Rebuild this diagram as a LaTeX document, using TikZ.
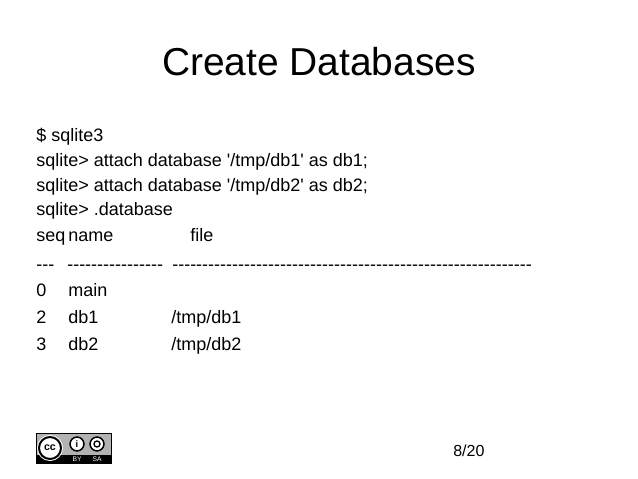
\documentclass[tikz,border=0pt]{standalone}
\usepackage{fontspec}
\setmainfont{Liberation Sans}
\newcommand\mydashes[1]{\foreach \i in {1,...,#1}{-}}
\begin{document}
\begin{tikzpicture}[x=0.75pt,y=-0.75pt,
  txt/.style={anchor=base west,inner sep=0pt,font=\fontsize{13.5pt}{16pt}\selectfont}]
\useasboundingbox (0,0) rectangle (638,478);
\fill[white] (0,0) rectangle (638,478);
\node[anchor=base,inner sep=0pt,font=\fontsize{29.2pt}{34pt}\selectfont] (title) at (319,75) {Create Databases};
\node[txt] (l1) at (36,141) {\$ sqlite3};
\node[txt] (l2) at (36,166) {sqlite> attach database \textquotesingle/tmp/db1\textquotesingle{} as db1;};
\node[txt] (l3) at (36,191) {sqlite> attach database \textquotesingle/tmp/db2\textquotesingle{} as db2;};
\node[txt] (l4) at (36,215) {sqlite> .database};
\node[txt] (l5a) at (36,241) {seq};
\node[txt] (l5b) at (68,241) {name};
\node[txt] (l5c) at (190,241) {file};
\node[txt] (l6a) at (36,270) {\mydashes{3}};
\node[txt] (l6b) at (67,270) {\mydashes{16}};
\node[txt] (l6c) at (172,270) {\mydashes{60}};
\node[txt] (l7a) at (36,296) {0};
\node[txt] (l7b) at (68,296) {main};
\node[txt] (l8a) at (36,323) {2};
\node[txt] (l8b) at (68,323) {db1};
\node[txt] (l8c) at (171,323) {/tmp/db1};
\node[txt] (l9a) at (36,350) {3};
\node[txt] (l9b) at (68,350) {db2};
\node[txt] (l9c) at (171,350) {/tmp/db2};
\node[txt,font=\fontsize{12pt}{14pt}\selectfont] (pg) at (453,456) {8/20};
% CC BY-SA badge
\fill[black] (36,433) rectangle (112,464);
\fill[gray!60] (37,434) rectangle (111,455);
\fill[white] (50,448) circle (13);
\draw[black,line width=1.5pt] (50,448) circle (11);
\node[inner sep=0pt,font=\bfseries\fontsize{8pt}{8pt}\selectfont] (cc) at (50,448) {cc};
\fill[white] (77,444) circle (8);
\draw[black,line width=1.2pt] (77,444) circle (7);
\node[inner sep=0pt,font=\bfseries\fontsize{7pt}{7pt}\selectfont] (by) at (77,444) {i};
\fill[white] (97,444) circle (8);
\draw[black,line width=1.2pt] (97,444) circle (7);
\draw[black,line width=1pt] (97,444) circle (3);
\node[inner sep=0pt,text=white,font=\fontsize{5pt}{5pt}\selectfont] (byt) at (77,459.5) {BY};
\node[inner sep=0pt,text=white,font=\fontsize{5pt}{5pt}\selectfont] (sat) at (97,459.5) {SA};
\end{tikzpicture}
\end{document}
